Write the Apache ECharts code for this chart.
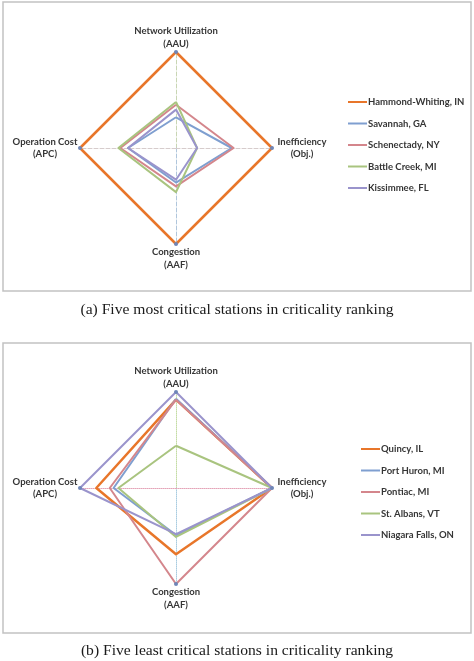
<!DOCTYPE html>
<html><head><meta charset="utf-8">
<script src="https://cdn.jsdelivr.net/npm/echarts@6/dist/echarts.min.js"></script>
<style>html,body{margin:0;padding:0;background:#fff}#c{width:474px;height:661px}</style>
</head><body><div id="c"></div><script>
// Indicator order (ECharts goes counter-clockwise from top): top, left, bottom, right
const indicatorNames = ['Network Utilization\n(AAU)', 'Operation Cost\n(APC)', 'Congestion\n(AAF)', 'Inefficiency\n(Obj.)'];
const axisMax = [1, 1, 1, 1];

// Panel (a)
const namesA = ['Hammond-Whiting, IN', 'Savannah, GA', 'Schenectady, NY', 'Battle Creek, MI', 'Kissimmee, FL'];
const hammond = [1, 1, 1, 1];
const savannah = [0.32, 0.50, 0.36, 0.58];
const schenectady = [0.45, 0.58, 0.40, 0.60];
const battleCreek = [0.48, 0.60, 0.46, 0.22];
const kissimmee = [0.40, 0.50, 0.33, 0.22];
const valuesA = [hammond, savannah, schenectady, battleCreek, kissimmee];

// Panel (b)
const namesB = ['Quincy, IL', 'Port Huron, MI', 'Pontiac, MI', 'St. Albans, VT', 'Niagara Falls, ON'];
const quincy = [0.92, 0.83, 0.69, 1];
const portHuron = [0.93, 0.65, 0.49, 1];
const pontiac = [0.92, 0.69, 1, 1];
const stAlbans = [0.44, 0.60, 0.51, 1];
const niagara = [1, 1, 0.48, 1];
const valuesB = [quincy, portHuron, pontiac, stAlbans, niagara];

const captionA = '(a) Five most critical stations in criticality ranking';
const captionB = '(b) Five least critical stations in criticality ranking';

const colors = ['#e8762a', '#7f9fd0', '#d4868c', '#a9c47f', '#9a94cc'];
const widths = [2.5, 2, 2, 2, 2];
const axisColorsA = ['#c9d6b4', '#d6cccc', '#b0c6dc', '#d6cccc'];
const axisColorsB = ['#c4dca4', '#e4a4b8', '#a8cce0', '#e4a4b8'];
const labelKeys = ['t', 'l', 'b', 'r'];

function makeIndicators(colorsArr, type) {
  return indicatorNames.map((n, i) => ({
    name: n, min: 0, max: axisMax[i],
    axisLine: { lineStyle: { color: colorsArr[i], type: type, width: 1 } }
  }));
}
const baseFont = { color: '#363636', fontFamily: 'Lato', fontWeight: 'bold', fontSize: 9.5, lineHeight: 12.5 };
const nameStyle = Object.assign({}, baseFont, {
  rich: {
    t: Object.assign({}, baseFont, { align: 'center', width: 90 }),
    b: Object.assign({}, baseFont, { align: 'center', width: 60 }),
    l: Object.assign({}, baseFont, { align: 'center', width: 66 }),
    r: Object.assign({}, baseFont, { align: 'center', width: 56 })
  },
  formatter: function (name) {
    const k = labelKeys[indicatorNames.indexOf(name)];
    return name.split('\n').map(s => '{' + k + '|' + s + '}').join('\n');
  }
});
function radarCfg(center, colorsArr, type) {
  return {
    center: center, radius: 96, shape: 'polygon', splitNumber: 1, startAngle: 90,
    indicator: makeIndicators(colorsArr, type), nameGap: 2,
    axisName: nameStyle,
    splitLine: { show: false }, splitArea: { show: false },
    axisLine: { lineStyle: { type: type, color: '#cccccc' } }
  };
}
const series = [];
function addSeries(names, values, radarIndex) {
  names.forEach((n, i) => {
    series.push({
      type: 'radar', radarIndex: radarIndex, name: n, symbol: 'none',
      lineStyle: { color: colors[i], width: widths[i] },
      itemStyle: { color: colors[i] },
      data: [{ value: values[i], name: n }]
    });
  });
  series.push({
    type: 'radar', radarIndex: radarIndex, name: 'vertex' + radarIndex, symbol: 'circle', symbolSize: 4,
    lineStyle: { opacity: 0 }, itemStyle: { color: '#6e86b8' }, z: 5,
    data: [{ value: axisMax }]
  });
}
addSeries(namesA, valuesA, 0);
addSeries(namesB, valuesB, 1);

const legendText = { color: '#363636', fontFamily: 'Lato', fontWeight: 'bold', fontSize: 9.5, padding: [0, 0, 0, -4] };
const chart = echarts.init(document.getElementById('c'));
chart.setOption({
  backgroundColor: '#ffffff',
  animation: false,
  color: colors,
  radar: [radarCfg([176, 148], axisColorsA, 'dashed'), radarCfg([176, 488], axisColorsB, 'dotted')],
  legend: [
    { data: namesA, orient: 'vertical', left: 343, top: 92, icon: 'rect', itemWidth: 19, itemHeight: 2, itemGap: 11.5, textStyle: legendText, selectedMode: false },
    { data: namesB, orient: 'vertical', left: 356, top: 439, icon: 'rect', itemWidth: 19, itemHeight: 2, itemGap: 11.5, textStyle: legendText, selectedMode: false }
  ],
  graphic: [
    { type: 'rect', shape: { x: 3, y: 2, width: 468, height: 289 }, style: { fill: 'none', stroke: '#c2c2c2', lineWidth: 1.5 }, z: -1 },
    { type: 'rect', shape: { x: 3, y: 343, width: 468, height: 290 }, style: { fill: 'none', stroke: '#c2c2c2', lineWidth: 1.5 }, z: -1 },
    { type: 'text', x: 237, y: 310, style: { text: captionA, fill: '#1a1a1a', font: '15.6px "Liberation Serif"', textAlign: 'center', textVerticalAlign: 'middle' } },
    { type: 'text', x: 237, y: 651, style: { text: captionB, fill: '#1a1a1a', font: '15.6px "Liberation Serif"', textAlign: 'center', textVerticalAlign: 'middle' } }
  ],
  series: series
});
</script></body></html>
